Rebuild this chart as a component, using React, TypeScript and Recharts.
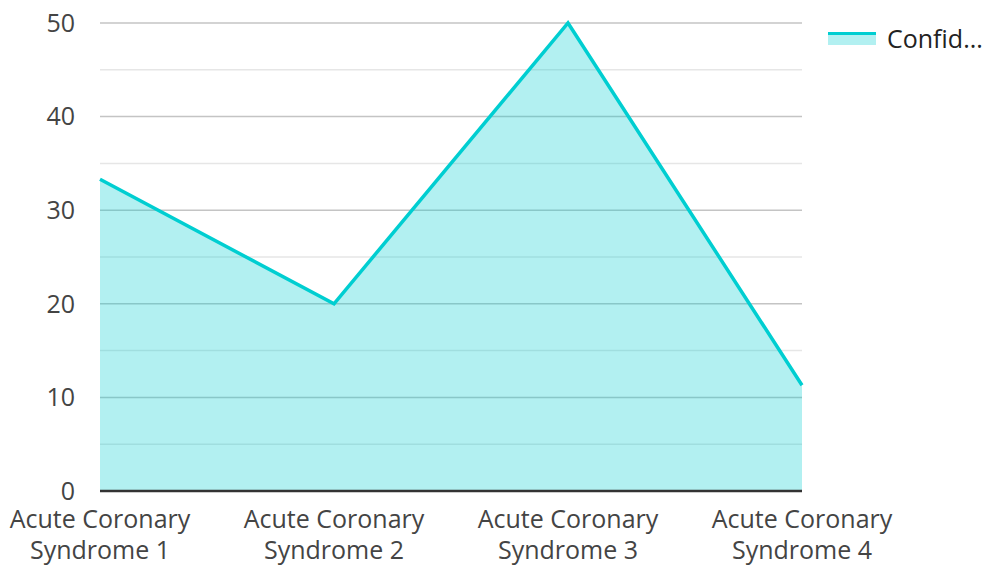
import React from 'react'
import {
  AreaChart,
  Area,
  XAxis,
  YAxis,
  CartesianGrid,
  Legend,
} from 'recharts'

const categories = [
  'Acute Coronary Syndrome 1',
  'Acute Coronary Syndrome 2',
  'Acute Coronary Syndrome 3',
  'Acute Coronary Syndrome 4',
]
const confidence = [33.3, 20, 50, 11.3]
const yTicks = [0, 10, 20, 30, 40, 50]
const minorTicks = [5, 15, 25, 35, 45]

const data = categories.map((name, i) => ({ name, Confidence: confidence[i] }))

const FONT = '"Open Sans", sans-serif'

const XTick = (props: any) => {
  const { x, y, payload } = props
  const words = String(payload.value).split(' ')
  const line1 = words.slice(0, 2).join(' ')
  const line2 = words.slice(2).join(' ')
  return (
    <g transform={`translate(${x},${y})`}>
      <text textAnchor="middle" fill="#444" fontSize={25} fontFamily={FONT}>
        <tspan x={0} dy={29}>{line1}</tspan>
        <tspan x={0} dy={31}>{line2}</tspan>
      </text>
    </g>
  )
}

const LegendContent = () => (
  <div style={{ display: 'flex', alignItems: 'center', fontFamily: FONT, fontSize: 25, color: '#222' }}>
    <svg width={48} height={14} style={{ marginRight: 11 }}>
      <rect x={0} y={3} width={48} height={11} fill="#00CED1" fillOpacity={0.3} />
      <rect x={0} y={1} width={48} height={3} fill="#00CED1" />
    </svg>
    <span>Confid...</span>
  </div>
)

export default function App() {
  return (
    <div style={{ position: 'absolute', left: 0, top: 0 }}>
      <AreaChart
        width={984}
        height={566}
        data={data}
        margin={{ top: 23, right: 26, left: 0, bottom: 0 }}
      >
        <CartesianGrid
          vertical={false}
          horizontalValues={minorTicks}
          stroke="#e6e6e6"
          strokeWidth={1.5}
        />
        <CartesianGrid
          vertical={false}
          horizontalValues={yTicks}
          stroke="#c4c4c4"
          strokeWidth={1.5}
        />
        <XAxis
          dataKey="name"
          interval={0}
          height={75}
          tick={<XTick />}
          tickLine={false}
          axisLine={{ stroke: '#333', strokeWidth: 2.5 }}
        />
        <YAxis
          width={100}
          domain={[0, 50]}
          ticks={yTicks}
          axisLine={false}
          tickLine={false}
          tickSize={0}
          tickMargin={25}
          tick={{ fill: '#444', fontSize: 25, fontFamily: FONT }}
        />
        <Legend
          layout="horizontal"
          verticalAlign="middle"
          align="right"
          wrapperStyle={{ top: 21, left: 828, width: 156, height: 34 }}
          content={<LegendContent />}
        />
        <Area
          type="linear"
          dataKey="Confidence"
          stroke="#00CED1"
          strokeWidth={3.5}
          fill="#00CED1"
          fillOpacity={0.3}
          dot={false}
          activeDot={false}
          isAnimationActive={false}
        />
      </AreaChart>
    </div>
  )
}
